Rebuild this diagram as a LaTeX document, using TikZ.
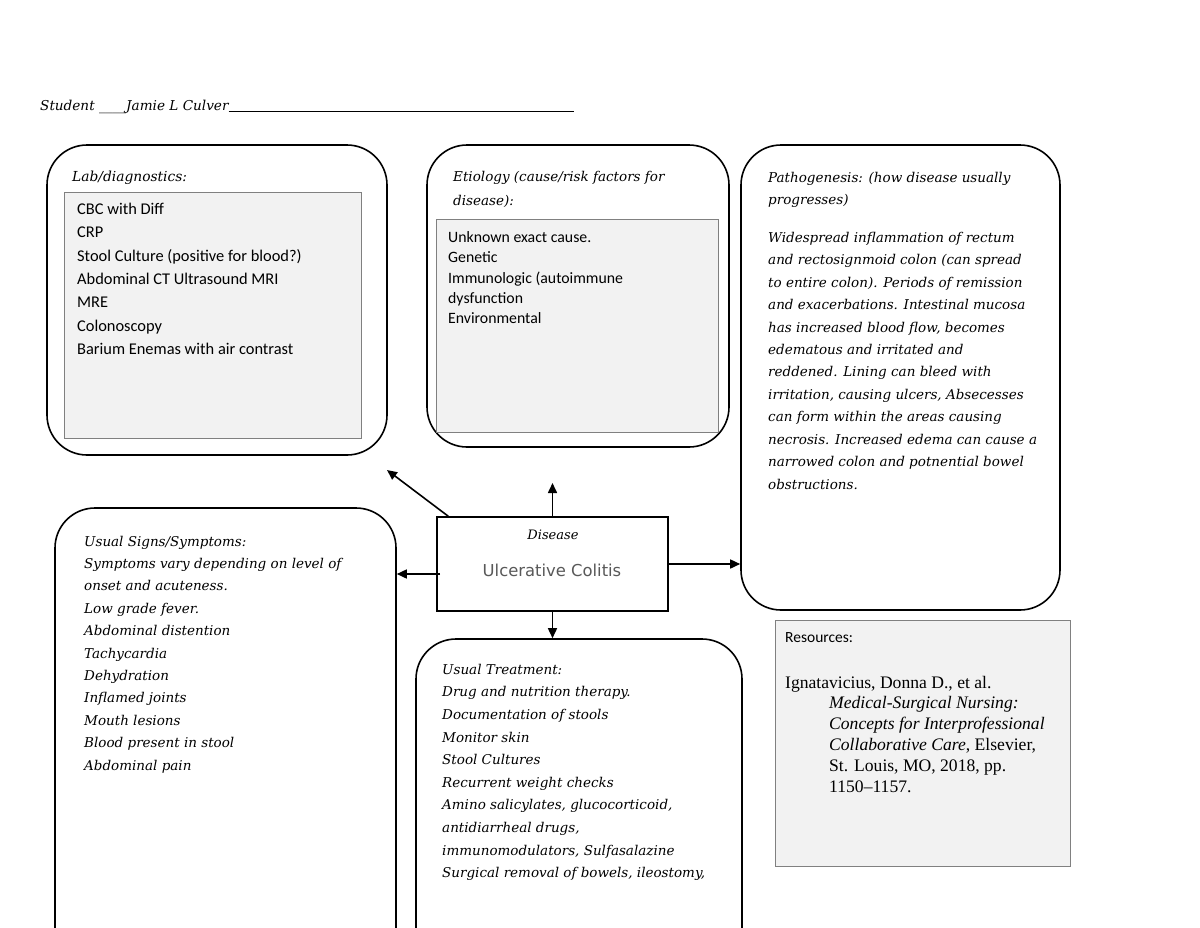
\documentclass[tikz,border=0pt]{standalone}
\usepackage{fontspec}
\setmainfont{Liberation Serif}
\newfontfamily\slabfont{DejaVu Serif}
\newfontfamily\calfont{Carlito}
\newfontfamily\verfont{DejaVu Sans}
\usetikzlibrary{arrows.meta}

\tikzset{
  card/.style={draw, line width=1.6pt, rounded corners=40pt, inner sep=0pt},
  greybox/.style={draw=black!50, fill=black!5, line width=0.8pt, inner sep=0pt},
  dbox/.style={draw, line width=1.6pt, inner sep=0pt},
  itxt/.style={anchor=north west, inner sep=0pt, align=left,
    font=\slabfont\itshape\fontsize{13.5}{22.4}\selectfont},
  ctxt/.style={anchor=north west, inner sep=0pt, align=left,
    font=\calfont\fontsize{16.4}{23.3}\selectfont},
  link/.style={line width=1.6pt, -{Triangle[length=10pt,width=9pt]}}
}

\begin{document}
\begin{tikzpicture}[x=1pt,y=-1pt]
  \clip (0,0) rectangle (1200,927);
  \fill[white] (0,0) rectangle (1200,927);

  \node[anchor=base west, inner sep=0pt, font=\slabfont\itshape\fontsize{13.6}{16}\selectfont]
    (hdr) at (40,110) {Student \_\_\_\_Jamie L Culver\rule[-2pt]{345pt}{0.8pt}};

  \node[card, minimum width=340pt, minimum height=310pt] (lab) at (217,300) {};
  \node[greybox, minimum width=297pt, minimum height=246pt] (labin) at (212.5,315) {};
  \node[anchor=base west, inner sep=0pt, font=\slabfont\itshape\fontsize{13.8}{22}\selectfont]
    (labh) at (72,181) {Lab/diagnostics:};
  \node[ctxt] (labt) at (77,198) {\strut CBC with Diff\\CRP\\Stool Culture (positive for blood?)\\
    Abdominal CT Ultrasound MRI\\MRE\\Colonoscopy\\Barium Enemas with air contrast};

  \node[card, minimum width=302pt, minimum height=302pt] (eti) at (578,296) {};
  \node[greybox, minimum width=282pt, minimum height=213pt] (etiin) at (577,325.5) {};
  \node[itxt, font=\slabfont\itshape\fontsize{13.5}{24}\selectfont]
    (etih) at (453,164) {\strut Etiology (cause/risk factors for\\disease):};
  \node[ctxt, font=\calfont\fontsize{15.8}{20.3}\selectfont]
    (etit) at (448,228) {\strut Unknown exact cause.\\Genetic\\Immunologic (autoimmune\\
    dysfunction\\Environmental};

  \node[card, minimum width=319pt, minimum height=465pt] (pat) at (900.5,377.5) {};
  \node[itxt, font=\slabfont\itshape\fontsize{13.5}{22}\selectfont]
    (path) at (768,166.5) {\strut Pathogenesis: (how disease usually\\progresses)};
  \node[itxt, font=\slabfont\itshape\fontsize{13.5}{22.45}\selectfont] (patt) at (768,226.3) {\strut
    Widespread inflammation of rectum\\and rectosignmoid colon (can spread\\
    to entire colon). Periods of remission\\and exacerbations. Intestinal mucosa\\
    has increased blood flow, becomes\\edematous and irritated and\\
    reddened. Lining can bleed with\\irritation, causing ulcers, Absecesses\\
    can form within the areas causing\\necrosis. Increased edema can cause a\\
    narrowed colon and potnential bowel\\obstructions.};

  \node[dbox, minimum width=231pt, minimum height=94pt] (dis) at (552.5,564) {};
  \node[anchor=base, inner sep=0pt, font=\slabfont\itshape\fontsize{13}{15}\selectfont]
    (dish) at (553,539) {Disease};
  \node[anchor=base, inner sep=0pt, text=black!65, font=\verfont\fontsize{16.4}{18}\selectfont]
    (disn) at (552,576) {Ulcerative Colitis};

  \node[card, minimum width=341pt, minimum height=492pt] (sym) at (225.5,754) {};
  \node[itxt] (symt) at (84,530.3) {\strut Usual Signs/Symptoms:\\
    Symptoms vary depending on level of\\onset and acuteness.\\Low grade fever.\\
    Abdominal distention\\Tachycardia\\Dehydration\\Inflamed joints\\Mouth lesions\\
    Blood present in stool\\Abdominal pain};

  \node[card, minimum width=326pt, minimum height=361pt] (trt) at (579,819.5) {};
  \node[itxt, font=\slabfont\itshape\fontsize{13.5}{22.6}\selectfont] (trtt) at (442,658.2) {\strut
    Usual Treatment:\\Drug and nutrition therapy.\\Documentation of stools\\Monitor skin\\
    Stool Cultures\\Recurrent weight checks\\Amino salicylates, glucocorticoid,\\
    antidiarrheal drugs,\\immunomodulators, Sulfasalazine\\
    Surgical removal of bowels, ileostomy,};

  \node[greybox, minimum width=295pt, minimum height=246pt] (res) at (922.5,743) {};
  \node[anchor=base west, inner sep=0pt, font=\calfont\fontsize{15.5}{17}\selectfont]
    (resh) at (785,642) {Resources:};
  \node[anchor=north west, inner sep=0pt, align=left, font=\fontsize{17.6}{20.8}\selectfont]
    (rest) at (785,673.4) {\strut Ignatavicius, Donna D., et al.\\
    \hspace*{44pt}\textit{Medical-Surgical Nursing:}\\
    \hspace*{44pt}\textit{Concepts for Interprofessional}\\
    \hspace*{44pt}\textit{Collaborative Care}, Elsevier,\\
    \hspace*{44pt}St. Louis, MO, 2018, pp.\\
    \hspace*{44pt}1150--1157.};

  \coordinate (labtip) at (387,470);
  \coordinate (etitip) at (552.5,483);
  \coordinate (symfrom) at (440,574);
  \draw[link] ([xshift=12pt]dis.north west) -- (labtip);
  \draw[link] (dis.north) -- (etitip);
  \draw[link] (symfrom) -- (sym.east |- symfrom);
  \draw[link] (dis.east) -- (dis.east -| pat.west);
  \draw[link] (dis.south) -- (dis.south |- trt.north);
\end{tikzpicture}
\end{document}
